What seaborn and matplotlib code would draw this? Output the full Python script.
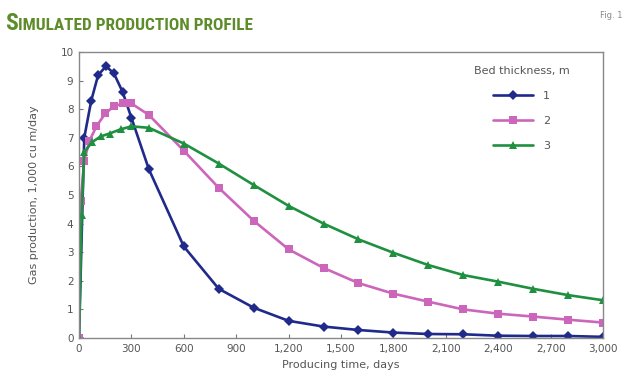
import numpy as np
import pandas as pd
import matplotlib
matplotlib.use("Agg")
import matplotlib.pyplot as plt
from matplotlib.ticker import FuncFormatter, MultipleLocator
import seaborn as sns

# ---- data ----
tail_x = [1200, 1400, 1600, 1800, 2000, 2200, 2400, 2600, 2800, 3000]

days_1 = [0, 30, 70, 110, 155, 200, 250, 300, 400, 600, 800, 1000] + tail_x
gas_1 = [0, 7.0, 8.3, 9.2, 9.5, 9.25, 8.6, 7.7, 5.9, 3.2, 1.72, 1.06,
         0.6, 0.4, 0.28, 0.19, 0.14, 0.13, 0.08, 0.07, 0.07, 0.04]

days_2 = [0, 10, 30, 60, 100, 150, 200, 250, 300, 400, 600, 800, 1000] + tail_x
gas_2 = [0, 4.8, 6.2, 6.9, 7.4, 7.85, 8.1, 8.2, 8.2, 7.8, 6.55, 5.25, 4.1,
         3.1, 2.45, 1.92, 1.55, 1.27, 1.0, 0.85, 0.75, 0.64, 0.54]

days_3 = [0, 15, 30, 75, 125, 175, 240, 300, 400, 600, 800, 1000] + tail_x
gas_3 = [0, 4.3, 6.5, 6.85, 7.05, 7.15, 7.3, 7.4, 7.35, 6.8, 6.1, 5.35,
         4.62, 4.0, 3.45, 2.98, 2.55, 2.2, 1.97, 1.72, 1.5, 1.32]

series_names = ["1", "2", "3"]
title_text = "Simulated production profile"
fig_label = "Fig. 1"
x_label = "Producing time, days"
y_label = "Gas production, 1,000 cu m/day"
legend_title = "Bed thickness, m"

df = pd.concat([
    pd.DataFrame({"days": days_1, "gas": gas_1, "bed": series_names[0]}),
    pd.DataFrame({"days": days_2, "gas": gas_2, "bed": series_names[1]}),
    pd.DataFrame({"days": days_3, "gas": gas_3, "bed": series_names[2]}),
], ignore_index=True)

sns.set_theme(style="white")
plt.rcParams["font.family"] = ["DejaVu Sans"]

palette = {"1": "#1f2a8a", "2": "#cc66bb", "3": "#1e9040"}
markers = {"1": "D", "2": "s", "3": "^"}

fig = plt.figure(figsize=(6.4, 3.9), dpi=100)
ax = fig.add_axes([79 / 640, (390 - 338) / 390, (603 - 79) / 640, (338 - 52) / 390])

sns.lineplot(data=df, x="days", y="gas", hue="bed", style="bed",
             palette=palette, markers=markers, dashes=False, sort=False,
             linewidth=1.9, markersize=5.5, markeredgewidth=0, ax=ax)

ax.set_xlim(0, 3000)
ax.set_ylim(0, 10)
ax.xaxis.set_major_locator(MultipleLocator(300))
ax.yaxis.set_major_locator(MultipleLocator(1))
ax.xaxis.set_major_formatter(FuncFormatter(lambda v, p: f"{v:,.0f}"))
ax.tick_params(axis="both", direction="in", length=3, width=0.8,
               colors="#777777", labelsize=7.5, labelcolor="#555555",
               bottom=True, left=True, pad=4)
for s in ax.spines.values():
    s.set_color("#888888")
    s.set_linewidth(1.0)

ax.set_xlabel(x_label, fontsize=8, color="#555555", labelpad=5)
ax.set_ylabel(y_label, fontsize=8, color="#555555", labelpad=15)

leg = ax.legend(title=legend_title, loc="upper right", frameon=False,
                bbox_to_anchor=(0.955, 0.985), fontsize=8, title_fontsize=8,
                handlelength=3.6, labelspacing=1.35, handletextpad=0.9)
for t in leg.get_texts():
    t.set_color("#555555")
leg.get_title().set_color("#555555")

# Title with small-caps look
title_color = "#5e8c2a"
title_fam = ["DejaVu Sans Condensed", "Liberation Sans Narrow", "Roboto Condensed", "DejaVu Sans"]
t1 = fig.text(5 / 640, 1 - 30 / 390, title_text[0].upper(), fontsize=17,
              fontweight="bold", fontstretch="condensed", color=title_color,
              va="baseline", family=title_fam)
fig.canvas.draw()
bb = t1.get_window_extent()
fig.text(bb.x1 / 640, 1 - 30 / 390, title_text[1:].upper(), fontsize=12.4,
         fontweight="bold", fontstretch="condensed", color=title_color,
         va="baseline", family=title_fam)

fig.text(622 / 640, 1 - 16 / 390, fig_label, fontsize=6, color="#888888",
         ha="right", va="center")

fig.savefig("out.png", dpi=100)
